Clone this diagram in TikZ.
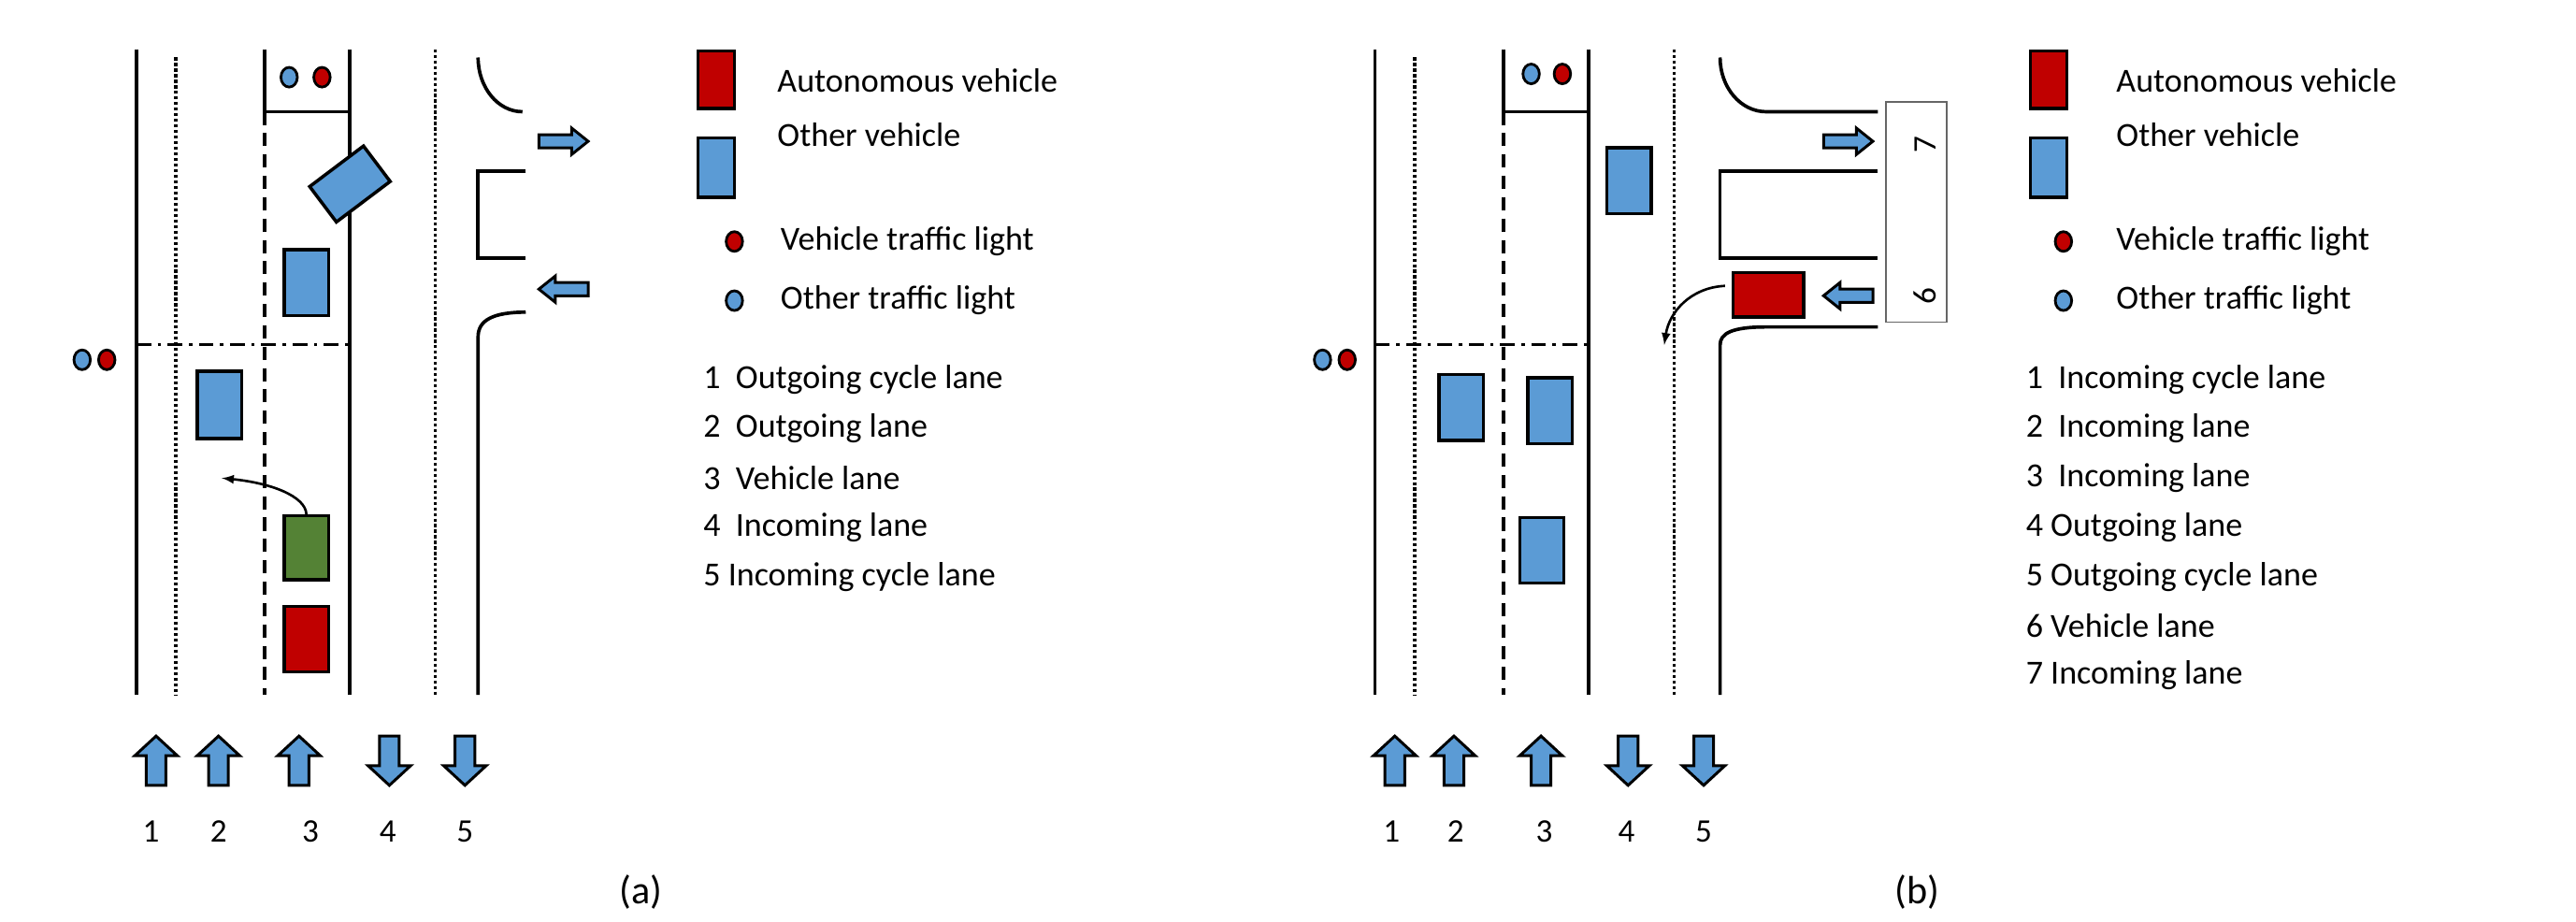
\documentclass[tikz,border=0pt]{standalone}
\usepackage{fontspec}
\setmainfont{Carlito}
\usetikzlibrary{shapes.geometric}
\begin{document}
\begin{tikzpicture}[x=1pt,y=-1pt,line join=miter,
 ln/.style={line width=2.1pt},
 dot/.style={line width=2.1pt,dash pattern=on 1.8pt off 1.6pt},
 dsh/.style={line width=2.1pt,dash pattern=on 8pt off 5pt},
 dd/.style={line width=1.7pt,dash pattern=on 9pt off 4pt on 2pt off 4pt},
 car/.style={draw,line width=2pt,fill=#1},
 lt/.style={draw,line width=1.6pt,fill=#1,ellipse,minimum width=10pt,minimum height=12pt,inner sep=0pt},
 txt/.style={font=\fontsize{20.5}{22}\selectfont,anchor=west,inner sep=0pt},
 num/.style={font=\fontsize{20}{22}\selectfont,inner sep=0pt},
 bl/.style={draw,line width=1.7pt,fill=cblue},
 pics/uparr/.style={code={\draw[bl] (-6,30)--(-6,12)--(-13,12)--(0,0)--(13,12)--(6,12)--(6,30)--cycle;}},
 pics/dnarr/.style={code={\draw[bl] (-6,0)--(-6,18)--(-13,18)--(0,30)--(13,18)--(6,18)--(6,0)--cycle;}},
 pics/rtarr/.style={code={\draw[bl] (0,-4)--(20,-4)--(20,-8)--(30,0)--(20,8)--(20,4)--(0,4)--cycle;}},
 pics/ltarr/.style={code={\draw[bl] (30,-4)--(10,-4)--(10,-8)--(0,0)--(10,8)--(10,4)--(30,4)--cycle;}}]
\definecolor{cblue}{RGB}{91,155,213}
\definecolor{cred}{RGB}{192,0,0}
\definecolor{cgreen}{RGB}{84,130,53}
\useasboundingbox (0,0) rectangle (1568,561);
% ---------- panel a ----------
\draw[ln] (83,30)--(83,423);
\draw[dot] (107,35)--(107,423);
\draw[ln] (161,30)--(161,68)--(213,68);
\draw[dsh] (161,68)--(161,423);
\draw[ln] (213,30)--(213,423);
\draw[dot] (265,30)--(265,423);
\draw[ln] (291,35) arc[start angle=180,end angle=270,x radius=27,y radius=-33];
\draw[ln] (320,104)--(291,104)--(291,157)--(320,157);
\draw[ln] (320,190) .. controls (300,190) and (291,195) .. (291,205)--(291,423);
\pic at (328,86) {rtarr};
\pic at (328,176) {ltarr};
\draw[dd] (83,210)--(213,210);
\node[lt=cblue] (al1) at (50,219) {};
\node[lt=cred] (al2) at (65,219) {};
\node[lt=cblue] (al3) at (176,47) {};
\node[lt=cred] (al4) at (196,47) {};
\node[car=cblue,minimum width=41pt,minimum height=27pt,rotate=37,inner sep=0pt] (ac1) at (213,112) {};
\node[car=cblue,minimum width=27pt,minimum height=40pt,inner sep=0pt] (ac2) at (186.5,172) {};
\node[car=cblue,minimum width=27pt,minimum height=41pt,inner sep=0pt] (ac3) at (133.5,246.5) {};
\node[car=cgreen,minimum width=27pt,minimum height=39pt,inner sep=0pt] (ac4) at (186.5,333.5) {};
\node[car=cred,minimum width=27pt,minimum height=40pt,inner sep=0pt] (ac5) at (186.5,389) {};
\coordinate (aend) at (135,291);
\draw[line width=1.5pt,-latex] (ac4.north) .. controls (186,302) and (165,294) .. (aend);
\foreach \x in {95,133,182} \pic at (\x,448) {uparr};
\foreach \x in {237,283} \pic at (\x,448) {dnarr};
\foreach \x/\t in {92/1,133/2,189/3,236/4,283/5} \node[num] at (\x,506) {\t};
\node[font=\fontsize{24}{26}\selectfont] at (390,543) {(a)};
% legend a
\node[car=cred,minimum width=22pt,minimum height=35pt,inner sep=0pt] (alr) at (436,48.5) {};
\node[car=cblue,minimum width=22pt,minimum height=36pt,inner sep=0pt] (alb) at (436,102) {};
\node[txt] at (473,49) {Autonomous vehicle};
\node[txt] at (473,82) {Other vehicle};
\node[lt=cred] (alr2) at (447,147) {};
\node[lt=cblue] (alb2) at (447,183) {};
\node[txt] at (475,147) {Vehicle traffic light};
\node[txt] at (475,183) {Other traffic light};
\foreach \y/\t in {231/{1\ \ Outgoing cycle lane},261/{2\ \ Outgoing lane},291/{3\ \ Vehicle lane},321/{4\ \ Incoming lane},351/{5 Incoming cycle lane}} \node[txt] at (428,\y) {\t};
% ---------- panel b ----------
\begin{scope}[xshift=754pt]
\draw[ln] (83,30)--(83,423);
\draw[dot] (107,35)--(107,423);
\draw[ln] (161,30)--(161,68)--(213,68);
\draw[dsh] (161,68)--(161,423);
\draw[ln] (213,30)--(213,423);
\draw[dot] (265,30)--(265,423);
\draw[ln] (293,35) arc[start angle=180,end angle=270,x radius=28,y radius=-33] -- (389,68);
\draw[ln] (389,104)--(293,104)--(293,157)--(389,157);
\draw[ln] (389,199)--(321,199) .. controls (300,199) and (293,203) .. (293,210)--(293,423);
\pic at (356,86) {rtarr};
\pic at (356,180) {ltarr};
\draw[dd] (83,210)--(213,210);
\node[lt=cblue] (bl1) at (51,219) {};
\node[lt=cred] (bl2) at (66,219) {};
\node[lt=cblue] (bl3) at (178,45) {};
\node[lt=cred] (bl4) at (197,45) {};
\node[car=cblue,minimum width=27pt,minimum height=40pt,inner sep=0pt] (bc1) at (237.5,110) {};
\node[car=cblue,minimum width=27pt,minimum height=40pt,inner sep=0pt] (bc2) at (135.5,248) {};
\node[car=cblue,minimum width=27pt,minimum height=40pt,inner sep=0pt] (bc3) at (189.5,250) {};
\node[car=cblue,minimum width=27pt,minimum height=40pt,inner sep=0pt] (bc4) at (184.5,335) {};
\node[car=cred,minimum width=43pt,minimum height=27pt,inner sep=0pt] (bc5) at (322.5,179.5) {};
\coordinate (bs) at (296,174);
\coordinate (bend) at (259,210);
\draw[line width=1.5pt,-latex] (bs) .. controls (275,175) and (262,190) .. (bend);
\node[draw=black!60,line width=0.9pt,minimum width=37pt,minimum height=134pt,inner sep=0pt] (bbox) at (412.5,129) {};
\node[num,rotate=90] at (418,88) {7};
\node[num,rotate=90] at (418,180) {6};
\foreach \x in {95,131,184} \pic at (\x,448) {uparr};
\foreach \x in {237,283} \pic at (\x,448) {dnarr};
\foreach \x/\t in {93/1,132/2,186/3,236/4,283/5} \node[num] at (\x,506) {\t};
\node[font=\fontsize{24}{26}\selectfont] at (413,543) {(b)};
% legend b
\node[car=cred,minimum width=22pt,minimum height=35pt,inner sep=0pt] (blr) at (493,48.5) {};
\node[car=cblue,minimum width=22pt,minimum height=36pt,inner sep=0pt] (blb) at (493,102) {};
\node[txt] at (534,49) {Autonomous vehicle};
\node[txt] at (534,82) {Other vehicle};
\node[lt=cred] (blr2) at (502,147) {};
\node[lt=cblue] (blb2) at (502,183) {};
\node[txt] at (534,147) {Vehicle traffic light};
\node[txt] at (534,183) {Other traffic light};
\foreach \y/\t in {231/{1\ \ Incoming cycle lane},261/{2\ \ Incoming lane},291/{3\ \ Incoming lane},321/{4 Outgoing lane},351/{5 Outgoing cycle lane},381/{6 Vehicle lane},411/{7 Incoming lane}} \node[txt] at (479,\y) {\t};
\end{scope}
\end{tikzpicture}
\end{document}
